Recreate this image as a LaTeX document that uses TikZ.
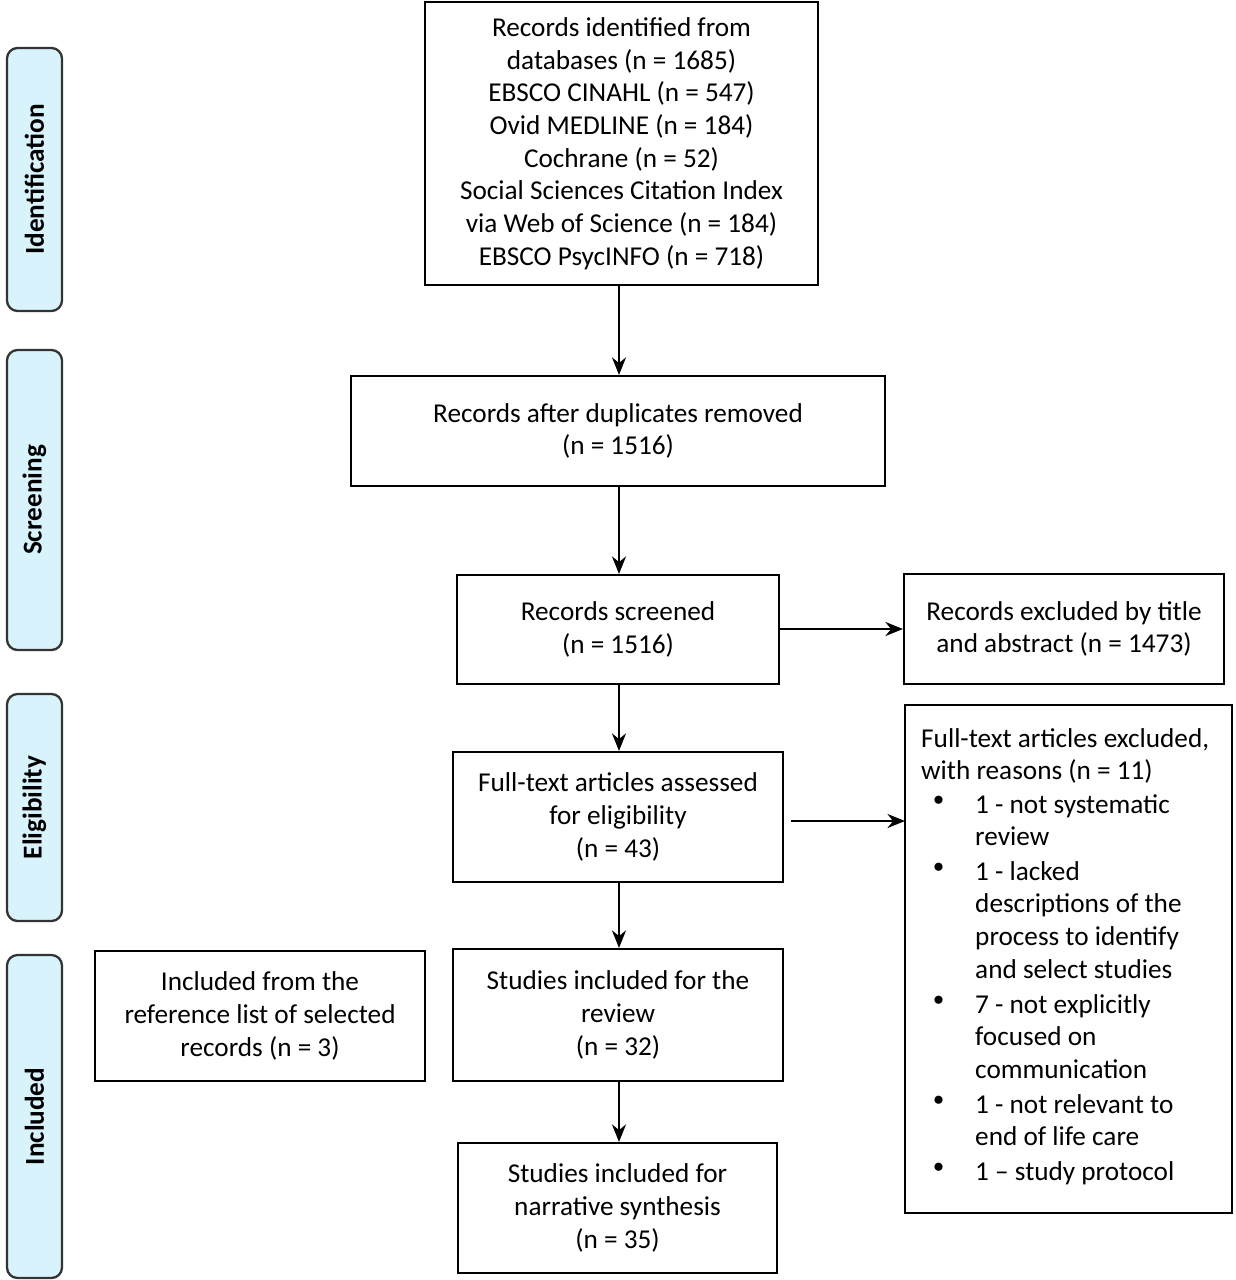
\documentclass[tikz,border=0pt]{standalone}
\usepackage{fontspec}
\setmainfont{Carlito}
\usetikzlibrary{arrows.meta}
\begin{document}
\begin{tikzpicture}[x=0.02cm,y=-0.02cm,
  every node/.style={font=\fontsize{15.5}{18.6}\selectfont},
  boxc/.style={draw,line width=1.2pt,align=center,inner sep=0pt},
  side/.style={draw=black!80,line width=1.3pt,fill=cyan!15,rounded corners=6pt},
  arr/.style={-{Stealth[length=10pt,width=8pt]},line width=1.2pt}]
\useasboundingbox (0,0) rectangle (1236,1280);
% side labels
\draw[side] (7,48) rectangle (62,311) node[midway,rotate=90,font=\fontsize{15.5}{18}\selectfont\bfseries] (s1) {Identification};
\draw[side] (7,350) rectangle (62,650) node[midway,rotate=90,font=\fontsize{15.5}{18}\selectfont\bfseries] (s2) {Screening};
\draw[side] (7,694) rectangle (62,921) node[midway,rotate=90,font=\fontsize{15.5}{18}\selectfont\bfseries] (s3) {Eligibility};
\draw[side] (7,955) rectangle (62,1278) node[midway,rotate=90,font=\fontsize{15.5}{18}\selectfont\bfseries] (s4) {Included};
% boxes
\draw[line width=1.2pt] (425,2) rectangle (818,285);
\node[align=center] (top) at (621.5,143.5) {Records identified from\\databases (n = 1685)\\EBSCO CINAHL (n = 547)\\Ovid MEDLINE (n = 184)\\Cochrane (n = 52)\\Social Sciences Citation Index\\via Web of Science (n = 184)\\EBSCO PsycINFO (n = 718)};
\coordinate (topb) at (619,285);
\node[boxc,minimum width=534*0.02cm,minimum height=110*0.02cm] (dup) at (618,431) {Records after duplicates removed\\(n = 1516)};
\node[boxc,minimum width=322*0.02cm,minimum height=109*0.02cm] (scr) at (618,629.5) {Records screened\\(n = 1516)};
\node[boxc,minimum width=320*0.02cm,minimum height=110*0.02cm] (ex1) at (1064,629) {Records excluded by title\\and abstract (n = 1473)};
\node[boxc,minimum width=330*0.02cm,minimum height=130*0.02cm] (ft) at (618,817) {Full-text articles assessed\\for eligibility\\(n = 43)};
\draw[line width=1.2pt] (905,705) rectangle (1232,1213);
\coordinate (ex2w) at (905,821);
\node[anchor=north west,align=left] (ex2) at (915,722) {Full-text articles excluded,\\with reasons (n = 11)};
\foreach \y/\t in {788/{1 - not systematic\\review},855/{1 - lacked\\descriptions of the\\process to identify\\and select studies},988/{7 - not explicitly\\focused on\\communication},1088/{1 - not relevant to\\end of life care},1155/{1 -- study protocol}}{
  \node[anchor=north west,inner sep=0pt] at (933,\y+8) {\fontsize{12}{14}\selectfont$\bullet$};
  \node[anchor=north west,align=left] at (969,\y) {\t};
}
\node[boxc,minimum width=330*0.02cm,minimum height=130*0.02cm] (inc) at (260,1016) {Included from the\\reference list of selected\\records (n = 3)};
\node[boxc,minimum width=330*0.02cm,minimum height=132*0.02cm] (stu) at (618,1015) {Studies included for the\\review\\(n = 32)};
\node[boxc,minimum width=319*0.02cm,minimum height=130*0.02cm] (nar) at (617.5,1208) {Studies included for\\narrative synthesis\\(n = 35)};
% arrows
\draw[arr] (topb) -- (dup.north-|topb);
\draw[arr] (dup.south-|topb) -- (scr.north-|topb);
\draw[arr] (scr.east|-ex1.west) -- (ex1.west);
\draw[arr] (scr.south-|topb) -- (ft.north-|topb);
\draw[arr] ([xshift=7*0.02cm]ft.east|-ex2w) -- (ex2w);
\draw[arr] (ft.south-|topb) -- (stu.north-|topb);
\draw[arr] (stu.south-|topb) -- (nar.north-|topb);
\end{tikzpicture}
\end{document}
